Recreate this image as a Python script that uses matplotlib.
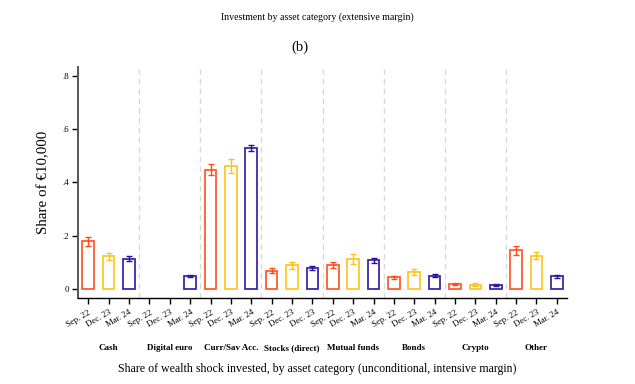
import numpy as np
import matplotlib
matplotlib.use("Agg")
import matplotlib.pyplot as plt

plt.rcParams['font.family'] = ['Liberation Serif', 'DejaVu Serif']

groups = ['Cash', 'Digital euro', 'Curr/Sav Acc.', 'Stocks (direct)',
          'Mutual funds', 'Bonds', 'Crypto', 'Other']
waves = ['Sep. 22', 'Dec. 23', 'Mar. 24']
# tick labels as printed in the source (stocks group repeats "Dec. 23")
tick_labels = (waves * 3 + ['Sep. 22', 'Dec. 23', 'Dec. 23'] + waves * 4)

# share per group, per wave (nan = no bar)
sep22 = [0.179, np.nan, 0.447, 0.069, 0.089, 0.043, 0.018, 0.145]
dec23 = [0.122, np.nan, 0.462, 0.088, 0.113, 0.065, 0.016, 0.125]
mar24 = [0.114, 0.049, 0.528, 0.079, 0.107, 0.050, 0.014, 0.047]
err_sep22 = [0.016, np.nan, 0.021, 0.010, 0.011, 0.007, 0.005, 0.016]
err_dec23 = [0.013, np.nan, 0.026, 0.014, 0.019, 0.011, 0.005, 0.014]
err_mar24 = [0.008, 0.004, 0.011, 0.008, 0.008, 0.006, 0.003, 0.006]

colors = ['#ff4a17', '#ffc20e', '#2a0ea0']

fig = plt.figure(figsize=(6.35, 3.84), dpi=100)
ax = fig.add_axes([0.123, 0.224, 0.77, 0.602])

series = [(sep22, err_sep22), (dec23, err_dec23), (mar24, err_mar24)]
for k, (vals, errs) in enumerate(series):
    for g in range(len(groups)):
        if np.isnan(vals[g]):
            continue
        x = g * 3 + k
        ax.bar(x, vals[g], width=0.57, facecolor='none',
               edgecolor=colors[k], linewidth=1.3, alpha=0.9)
        ax.errorbar(x, vals[g], yerr=errs[g], fmt='none', ecolor=colors[k],
                    elinewidth=1.0, capsize=2.5, capthick=1.0)

for g in range(1, len(groups)):
    ax.axvline(g * 3 - 0.5, color='#d9d9d9', linestyle=(0, (4, 3)), linewidth=1.0, zorder=0)

ax.set_xlim(-0.5, 23.5)
ax.set_ylim(-0.034, 0.834)
ax.set_yticks([0, 0.2, 0.4, 0.6, 0.8])
ax.set_yticklabels(['0', '.2', '.4', '.6', '.8'], fontsize=6.3)
ax.set_xticks(np.arange(24))
ax.set_xticklabels(tick_labels, rotation=30, ha='right', rotation_mode='anchor', fontsize=6.3)
ax.tick_params(axis='both', length=4.5, width=1.0, pad=2)
ax.tick_params(axis='x', pad=3)

for side in ['top', 'right']:
    ax.spines[side].set_visible(False)
ax.spines['left'].set_color('#555555')
ax.spines['left'].set_linewidth(1.4)
ax.spines['bottom'].set_linewidth(1.0)

ax.set_ylabel('Share of €10,000', fontsize=10.8, labelpad=9)

for g, name in enumerate(groups):
    ax.text(g * 3 + 1, -0.218, name, transform=ax.get_xaxis_transform(),
            ha='center', va='center', fontsize=6.5, fontweight='bold')

fig.text(0.5, 0.04, 'Share of wealth shock invested, by asset category (unconditional, intensive margin)',
         ha='center', va='center', fontsize=8.6)
fig.text(0.5, 0.955, 'Investment by asset category (extensive margin)',
         ha='center', va='center', fontsize=7.1)
fig.text(0.473, 0.877, '(b)', ha='center', va='center', fontsize=10.5)

fig.savefig('out.png', dpi=100)
